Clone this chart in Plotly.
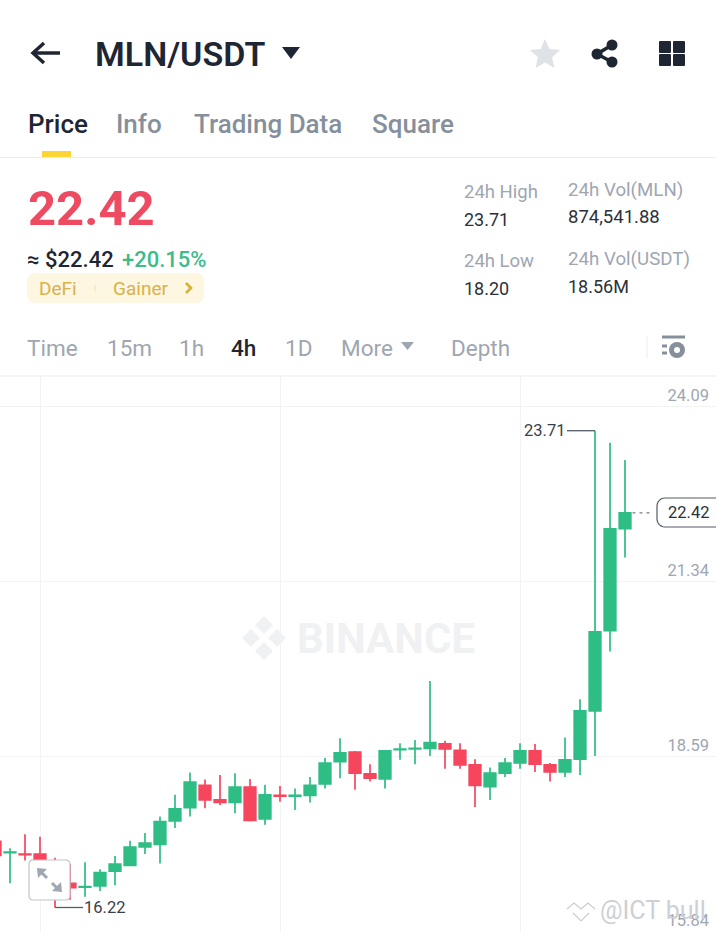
import math
import plotly.graph_objects as go

W = 716
H = 932

# 4h candles, oldest first
candle_idx = list(range(43))
opens = [17.26, 17.08, 17.06, 17.06, 16.95, 16.60, 16.54, 16.56, 16.79, 16.88, 17.17, 17.21, 17.58, 17.79, 18.14, 17.91,
         17.87, 18.11, 17.61, 17.98, 17.97, 17.98, 18.16, 18.51, 18.66, 18.32, 18.24, 18.70, 18.71, 18.72, 18.79, 18.69,
         18.46, 18.12, 18.33, 18.49, 18.68, 18.46, 18.35, 18.55, 19.31, 20.57, 22.17]
highs = [17.31, 17.15, 17.37, 17.33, 17.00, 16.90, 16.93, 16.82, 17.03, 17.27, 17.39, 17.65, 17.99, 18.34, 18.23, 18.30,
         18.33, 18.24, 18.15, 18.13, 18.09, 18.27, 18.57, 18.88, 18.68, 18.47, 18.68, 18.80, 18.85, 19.78, 18.84, 18.80,
         18.55, 18.42, 18.57, 18.80, 18.79, 18.49, 18.89, 19.49, 23.71, 23.52, 23.25]
lows = [17.01, 16.60, 16.96, 16.87, 16.22, 16.34, 16.39, 16.48, 16.57, 16.87, 17.06, 16.91, 17.47, 17.65, 17.78, 17.83,
        17.70, 17.57, 17.52, 17.88, 17.75, 17.87, 18.09, 18.25, 18.07, 18.20, 18.09, 18.54, 18.47, 18.60, 18.40, 18.40,
        17.80, 17.91, 18.27, 18.40, 18.35, 18.20, 18.27, 18.30, 18.60, 20.24, 21.72]
closes = [17.04, 17.09, 17.05, 16.95, 16.60, 16.53, 16.55, 16.77, 16.90, 17.17, 17.23, 17.57, 17.77, 18.19, 17.91, 17.87,
          18.11, 17.59, 17.99, 17.97, 17.98, 18.14, 18.49, 18.65, 18.33, 18.25, 18.68, 18.71, 18.72, 18.81, 18.71, 18.46,
          18.14, 18.33, 18.49, 18.68, 18.47, 18.35, 18.54, 19.31, 20.55, 22.17, 22.42]

price_ticks = [24.09, 21.34, 18.59, 15.84]
time_grid_idx = [3, 19, 35]
high_label = 23.71
high_idx = 40
low_label = 16.22
low_idx = 4
last_price = 22.42

GREEN = "#2EBD85"
RED = "#F6465D"
DARK = "#1E2633"
GRAY = "#868F9C"
LIGHT = "#9EA6B2"
GRID = "#F1F3F5"
FONT = "Roboto"


def px(x):
    return x / W


def py(y):
    return 1 - y / H


annotations = []
shapes = []


def txt(x, y, s, size, color=GRAY, weight=400, anchor="left", family=FONT):
    annotations.append(dict(x=px(x - 1), y=py(y), xref="paper", yref="paper", text=s, showarrow=False,
                            xanchor=anchor, yanchor="middle", borderpad=0,
                            font=dict(family=family, size=size, color=color, weight=weight)))


def pth(points, fill=None, line=None, width=0, close=True, layer="above"):
    d = "M" + " L".join(f"{px(a):.5f},{py(b):.5f}" for a, b in points) + (" Z" if close else "")
    shapes.append(dict(type="path", path=d, xref="paper", yref="paper", layer=layer,
                       fillcolor=fill or "rgba(0,0,0,0)",
                       line=dict(color=line or "rgba(0,0,0,0)", width=width)))


def rrect(x0, y0, x1, y1, r, fill=None, line=None, width=0, layer="above"):
    pts = []
    for cx, cy, a0 in [(x1 - r, y0 + r, -90), (x1 - r, y1 - r, 0), (x0 + r, y1 - r, 90), (x0 + r, y0 + r, 180)]:
        for k in range(7):
            a = math.radians(a0 + k * 15)
            pts.append((cx + r * math.cos(a), cy + r * math.sin(a)))
    pth(pts, fill, line, width, layer=layer)


def circle(cx, cy, r, fill):
    shapes.append(dict(type="circle", xref="paper", yref="paper", x0=px(cx - r), x1=px(cx + r),
                       y0=py(cy + r), y1=py(cy - r), fillcolor=fill, line=dict(width=0), layer="above"))


# header
pth([(60, 53), (34, 53)], line=DARK, width=3.5, close=False)
pth([(44, 43), (33, 53), (44, 63)], line=DARK, width=3.5, close=False)
txt(95, 54, "MLN/USDT", 34, DARK, 600)
pth([(282, 47), (300, 47), (291, 59)], fill=DARK)
star = []
for k in range(10):
    r = 16 if k % 2 == 0 else 7.5
    a = math.radians(-90 + k * 36)
    star.append((545 + r * math.cos(a), 55 + r * math.sin(a)))
pth(star, fill="#DFE2E6")
pth([(612, 45), (597, 54), (612, 62)], line=DARK, width=3.5, close=False)
circle(612, 45, 5.5, DARK)
circle(597, 54, 5.5, DARK)
circle(612, 62, 5.5, DARK)
for gx, gy in [(659, 41), (673, 41), (659, 54), (673, 54)]:
    rrect(gx, gy, gx + 12, gy + 12, 1, fill=DARK)

# tabs
txt(28, 124, "Price", 26, DARK, 500)
txt(116, 124, "Info", 26, GRAY, 500)
txt(194, 124, "Trading Data", 26, GRAY, 500)
txt(372, 124, "Square", 26, GRAY, 500)
rrect(42, 151, 71, 157, 0.5, fill="#FCD535")
pth([(0, 157.5), (W, 157.5)], line="#EAECEF", width=1, close=False)

# price block
txt(28, 208, "22.42", 49, "#EE4A62", 700)
txt(27, 259, "≈ $22.42", 22, DARK, 500)
txt(122, 259, "+20.15%", 22, "#3DBB8A", 500)
rrect(27, 273, 204, 303, 8, fill="#FDF6E1")
txt(39, 288, "DeFi", 19, "#D8B24A")
pth([(95, 285), (95, 291)], line="#EFE2B8", width=1, close=False)
txt(113, 288, "Gainer", 19, "#D8B24A")
pth([(186, 283), (191, 288), (186, 293)], line="#D8AE35", width=2.5, close=False)

txt(464, 192, "24h High", 18.5, LIGHT)
txt(464, 219, "23.71", 18, "#2B3139")
txt(464, 261, "24h Low", 18.5, LIGHT)
txt(464, 288, "18.20", 18, "#2B3139")
txt(568, 190, "24h Vol(MLN)", 18.7, LIGHT)
txt(568, 217, "874,541.88", 18.5, "#2B3139")
txt(568, 259, "24h Vol(USDT)", 18.7, LIGHT)
txt(568, 286, "18.56M", 18, "#2B3139")

# interval row
txt(27, 348, "Time", 22.5, LIGHT)
txt(107, 348, "15m", 22.5, LIGHT)
txt(179, 348, "1h", 22.5, LIGHT)
txt(231, 348, "4h", 22.5, DARK, 500)
txt(285, 348, "1D", 22.5, LIGHT)
txt(341, 348, "More", 22.5, LIGHT)
pth([(401, 342), (414, 342), (407.5, 350)], fill=LIGHT)
txt(451, 348, "Depth", 22.5, LIGHT)
pth([(647, 336), (647, 358)], line="#EAECEF", width=1, close=False)
pth([(662, 337), (685, 337)], line=GRAY, width=3, close=False)
pth([(662, 346), (667, 346)], line=GRAY, width=3, close=False)
pth([(662, 353), (667, 353)], line=GRAY, width=3, close=False)
circle(677, 350, 8, GRAY)
circle(677, 350, 3, "white")

# chart frame + watermark
pth([(0, 376), (W, 376)], line="#EAECEF", width=1, close=False)
for dx, dy in [(0, -13), (0, 13), (-13, 0), (13, 0)]:
    cx, cy = 264 + dx, 638 + dy
    pth([(cx, cy - 9), (cx + 9, cy), (cx, cy + 9), (cx - 9, cy)], fill="#F0F1F3", layer="below")
txt(297, 638, "BINANCE", 42, "#F0F1F3", 700)

# last price + high/low markers, tied to the price axis
shapes.append(dict(type="line", xref="x", yref="y", x0=high_idx - 1.87, x1=high_idx, y0=high_label, y1=high_label,
                   line=dict(color="#555C66", width=1.3)))
shapes.append(dict(type="line", xref="x", yref="y", x0=low_idx, x1=low_idx + 1.87, y0=low_label, y1=low_label,
                   line=dict(color="#555C66", width=1.3)))
shapes.append(dict(type="line", xref="x", yref="y", x0=42.5, x1=43.75, y0=last_price, y1=last_price,
                   line=dict(color="#777E89", width=1.3, dash="3px,4px")))
annotations.append(dict(x=high_idx - 1.87, y=high_label, xref="x", yref="y", text=f"{high_label:.2f}", showarrow=False,
                        xanchor="right", yanchor="middle", font=dict(family=FONT, size=16.5, color="#3A4049")))
annotations.append(dict(x=low_idx + 1.83, y=low_label, xref="x", yref="y", text=f"{low_label:.2f}", showarrow=False,
                        xanchor="left", yanchor="middle", font=dict(family=FONT, size=16.5, color="#3A4049")))
rrect(657, 498, 730, 527, 8, fill="white", line="#555C66", width=1.2)
annotations.append(dict(x=px(688), y=last_price, xref="paper", yref="y", text=f"{last_price:.2f}", showarrow=False,
                        xanchor="center", yanchor="middle", font=dict(family=FONT, size=16.5, color="#2B3139")))

# expand button
rrect(29, 860, 70, 900, 4, fill="white", line="#BFC4CB", width=1.2)
pth([(42, 873), (47, 878)], line="#A0A7B2", width=3, close=False)
pth([(52, 883), (57, 888)], line="#A0A7B2", width=3, close=False)
pth([(37, 868), (47, 869), (38, 878)], fill="#A0A7B2")
pth([(62, 892), (52, 891), (61, 882)], fill="#A0A7B2")

# uploader watermark
pth([(567, 909), (574, 903), (581, 909), (588, 903), (595, 909)], line="#C9CDD2", width=1.2, close=False)
pth([(573, 913), (581, 921), (589, 913)], line="#C9CDD2", width=1.2, close=False)
txt(600, 910, "@ICT bull", 25, "#CDD0D4")

fig = go.Figure(go.Candlestick(
    x=candle_idx, open=opens, high=highs, low=lows, close=closes,
    whiskerwidth=0,
    increasing=dict(line=dict(color=GREEN, width=1.7), fillcolor=GREEN),
    decreasing=dict(line=dict(color=RED, width=1.7), fillcolor=RED),
    hoverinfo="skip",
))

fig.update_layout(
    width=W, height=H,
    margin=dict(l=0, r=0, t=0, b=0),
    paper_bgcolor="white", plot_bgcolor="white",
    showlegend=False,
    boxgap=0.227, boxgroupgap=0,
    annotations=annotations, shapes=shapes,
    xaxis=dict(range=[1 / 3, 721 / 15], domain=[0, 1], rangeslider=dict(visible=False),
               tickvals=time_grid_idx, showticklabels=False, ticks="", showgrid=True,
               gridcolor=GRID, gridwidth=1, zeroline=False, showline=False),
    yaxis=dict(range=[15.835, 24.57], domain=[0, 0.5966], side="right", tickvals=price_ticks,
               ticktext=[f"{v:.2f}" for v in price_ticks], ticklabelposition="inside",
               ticklabelshift=-11, ticklabelstandoff=4, ticks="",
               tickfont=dict(family=FONT, size=16.5, color=LIGHT), showgrid=True,
               gridcolor=GRID, gridwidth=1, zeroline=False, showline=False),
)

fig.write_html("out.html", config=dict(displayModeBar=False),
               post_script="document.body.style.margin='0';document.body.style.overflow='hidden';")
